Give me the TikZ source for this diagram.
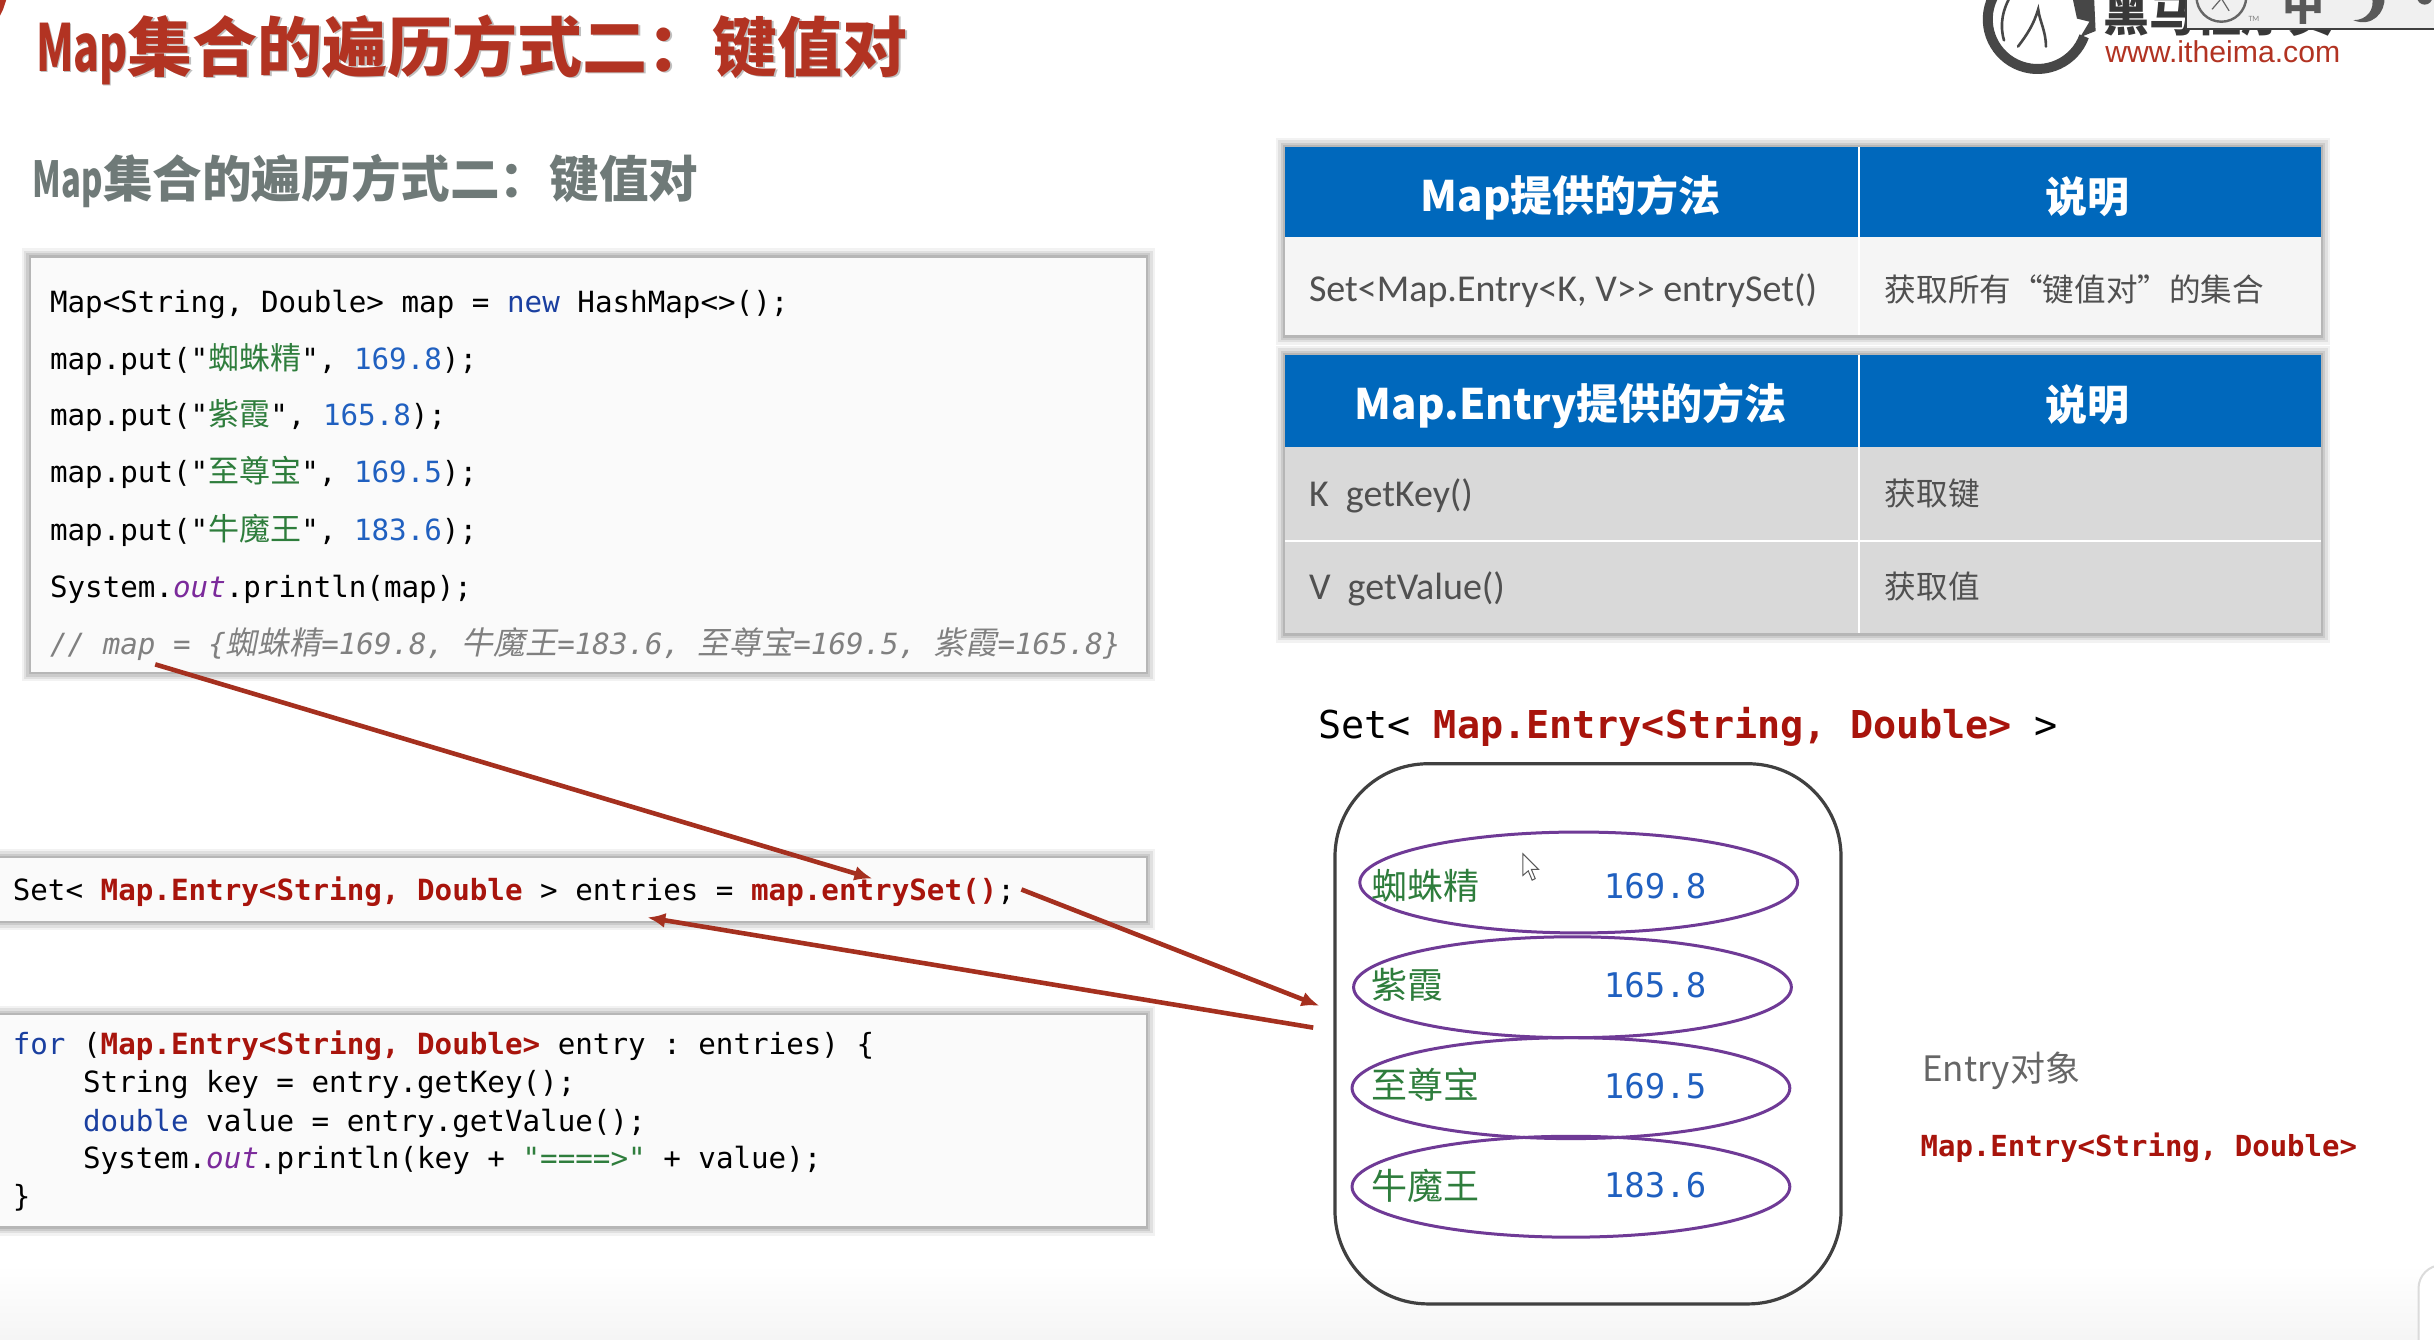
\documentclass[tikz,border=0pt]{standalone}
\usepackage{fontspec}
\setmainfont{Carlito}
\setmonofont{DejaVu Sans Mono}
\newfontfamily\cjk{Noto Sans CJK SC}
\newfontfamily\cjknarrow[FakeStretch=0.66]{Noto Sans CJK SC}
\newfontfamily\cjkslant[FakeSlant=0.2]{Noto Sans CJK SC}
\usetikzlibrary{arrows.meta,calc,shapes.geometric}
\definecolor{titlered}{HTML}{B23322}
\definecolor{subgray}{HTML}{6F7A78}
\definecolor{codeblue}{HTML}{2060C0}
\definecolor{kwblue}{HTML}{1A3FA0}
\definecolor{strgreen}{HTML}{2E7D3C}
\definecolor{varpurple}{HTML}{7B2A9B}
\definecolor{darkred}{HTML}{A8140C}
\definecolor{arrowred}{HTML}{A5301F}
\definecolor{headblue}{HTML}{0068BC}
\definecolor{ringpurple}{HTML}{6F3A96}
\definecolor{bodygray}{HTML}{505050}
\newcommand{\uu}{0.77615pt}
\newcommand{\sz}[1]{\fontsize{#1}{#1}\selectfont}
\newcommand{\clblue}[1]{\textcolor{codeblue}{#1}}
\newcommand{\clstr}[1]{\textcolor{strgreen}{{\cjk\sz{15.5}#1}}}
\newcommand{\clred}[1]{\textcolor{darkred}{\bfseries #1}}
\newcommand{\clkw}[1]{\textcolor{kwblue}{#1}}
\newcommand{\clvar}[1]{\textcolor{varpurple}{\itshape #1}}
\newcommand{\clit}[1]{{\cjkslant\sz{15.9}#1}}
\newcommand{\headtext}{{\cjknarrow Map}集合的遍历方式二：键值对}
\newcommand{\panel}[5]{%
  \foreach \w/\o in {12/0.05,9/0.07,6/0.09,3/0.1}{%
    \draw[line width=\w*\uu,draw=black,opacity=\o] (#1,#2) rectangle (#3,#4);}%
  \fill[#5] (#1,#2) rectangle (#3,#4);}
\tikzset{
  code/.style={anchor=base west,inner sep=0pt,font=\ttfamily\sz{14.6}},
  cellhead/.style={anchor=center,inner sep=0pt,text=white,font=\cjk\bfseries\sz{21}},
  cellbody/.style={anchor=base west,inner sep=0pt,text=bodygray,font=\sz{19}},
  cellcjk/.style={anchor=base west,inner sep=0pt,text=bodygray,font=\cjk\sz{15.8}},
  kvring/.style={draw=ringpurple,line width=1.5pt,ellipse,minimum width=282*\uu,minimum height=65*\uu,inner sep=0pt},
  kvname/.style={anchor=base west,inner sep=0pt,text=strgreen,font=\cjk\sz{18}},
  kvnum/.style={anchor=base west,inner sep=0pt,text=codeblue,font=\ttfamily\sz{17}},
  redline/.style={draw=arrowred,line width=2.3pt,-{Latex[length=9pt,width=7.5pt]}},
}
\begin{document}
\begin{tikzpicture}[x=0.77615pt,y=-0.77615pt]
\useasboundingbox (0,0) rectangle (1568,863.2);
\clip (0,0) rectangle (1568,863.2);
% page background with faint bottom shading
\fill[white] (0,0) rectangle (1568,863.2);
\fill[top color=white,bottom color=black!4,draw=none] (0,815) rectangle (1568,863.2);
\fill[white] (1558,863.2) -- (1558,830) arc[start angle=180,end angle=270,radius=15] -- (1568,815) -- (1568,863.2) -- cycle;
\draw[black!14,line width=1pt] (1558,863.2) -- (1558,830) arc[start angle=180,end angle=270,radius=15];
% corner mark
\fill[titlered] (0,0) -- (4,0) -- (2,6) -- (0,10) -- cycle;
% titles
\node[anchor=base west,inner sep=0pt,text=black!25,font=\cjk\bfseries\sz{32.5}] at (23.7,46.7) {\headtext};
\node (title) [anchor=base west,inner sep=0pt,text=titlered,font=\cjk\bfseries\sz{32.5}] at (23,46) {\headtext};
\node (subtitle) [anchor=base west,inner sep=0pt,text=subgray,font=\cjk\bfseries\sz{24.8}] at (21,127.5) {\headtext};
% logo
\draw[black!72,line width=5pt] (1342.6,23.4) arc[start angle=20,end angle=250,radius=32];
\draw[black!72,line width=1.3pt,line cap=round] (1296,-4) .. controls (1290,6) and (1288,16) .. (1291,26);
\draw[black!72,line width=1.3pt,line cap=round] (1300,30) .. controls (1306,22) and (1310,16) .. (1313,6) .. controls (1314,14) and (1318,20) .. (1318,30);
\fill[black!72] (1335,-2) -- (1349,-2) -- (1350,20) -- (1340,24) -- (1346,14) -- (1338,12) -- cycle;
\node (logotext) [anchor=base west,inner sep=0pt,text=black!78,font=\cjk\bfseries\sz{23}] at (1355,20.5) {黑马程序员};
\node (logourl) [anchor=base west,inner sep=0pt,text=titlered,font=\fontspec{Liberation Sans}\sz{15.1}] at (1356,40) {www.itheima.com};
\fill[black!6] (1408,-2) rectangle (1568,18.5);
\draw[black!75,line width=1pt] (1408,-2) -- (1408,18.5) -- (1568,18.5);
\draw[black!60,line width=1.2pt] (1431,-2) circle (16);
\draw[black!60,line width=.6pt] (1425,6) -- (1431,-1) -- (1436,7);
\node (ovtm) [anchor=base,inner sep=0pt,text=black!50,font=\sz{4}] at (1452,14) {TM};
\node (ovzh) [anchor=base,inner sep=0pt,text=black!65,font=\cjk\bfseries\sz{21}] at (1484,13) {中};
\fill[black!65] (1516,13) .. controls (1525,13) and (1530,6) .. (1528,-2) -- (1536,-2) .. controls (1537,8) and (1528,18) .. (1516,13) -- cycle;
\fill[black!65] (1562,-2) circle (5);
% code panel 1
\panel{20}{166}{738}{433}{black!2}
\node (c1) [code] at (32,201) {Map<String, Double> map = \clkw{new} HashMap<>();};
\node (c2) [code] at (32,238) {map.put("\clstr{蜘蛛精}", \clblue{169.8});};
\node (c3) [code] at (32,274) {map.put("\clstr{紫霞}", \clblue{165.8});};
\node (c4) [code] at (32,311) {map.put("\clstr{至尊宝}", \clblue{169.5});};
\node (c5) [code] at (32,348) {map.put("\clstr{牛魔王}", \clblue{183.6});};
\node (c6) [code] at (32,385) {System.\clvar{out}.println(map);};
\node (c7) [code,text=black!50,font=\ttfamily\itshape\sz{14.6}] at (32,421.5) {// map = \{\clit{蜘蛛精}=169.8, \clit{牛魔王}=183.6, \clit{至尊宝}=169.5, \clit{紫霞}=165.8\}};
% code panel 2
\panel{-10}{553}{738}{593}{black!2}
\node (d1) [code] at (8,580) {Set< \clred{Map.Entry<String, Double} > entries = \clred{map.entrySet()};};
% code panel 3
\panel{-10}{654}{738}{790}{black!2}
\node (e1) [code] at (8,679) {\clkw{for} (\clred{Map.Entry<String, Double>} entry : entries) \{};
\node (e2) [code] at (8,704) {\ \ \ \ String key = entry.getKey();};
\node (e3) [code] at (8,729) {\ \ \ \ \clkw{double} value = entry.getValue();};
\node (e4) [code] at (8,753) {\ \ \ \ System.\clvar{out}.println(key + \textcolor{strgreen}{"====>"} + value);};
\node (e5) [code] at (8,777) {\}};
% tables
\panel{828}{95}{1495}{216}{black!4}
\fill[headblue] (828,95) rectangle (1495,153);
\draw[white,line width=1pt] (1197.5,95) -- (1197.5,216);
\node (h1a) [cellhead] at (1012,127.5) {Map提供的方法};
\node (h1b) [cellhead] at (1345,127) {说明};
\node (r1a) [cellbody] at (843,194.5) {Set<Map.Entry<K, V>{}> entrySet()};
\node (r1b) [cellcjk] at (1214,194.5) {获取所有“键值对”的集合};
\panel{828}{229}{1495}{408}{black!15}
\fill[headblue] (828,229) rectangle (1495,288);
\draw[white,line width=1pt] (1197.5,229) -- (1197.5,408);
\draw[white,line width=1pt] (828,348.5) -- (1495,348.5);
\node (h2a) [cellhead] at (1012,261.5) {Map.Entry提供的方法};
\node (h2b) [cellhead] at (1345,261) {说明};
\node (r2a) [cellbody] at (843,326) {K\ \ getKey()};
\node (r2b) [cellcjk] at (1214,325.5) {获取键};
\node (r3a) [cellbody] at (843,386) {V\ \ getValue()};
\node (r3b) [cellcjk] at (1214,385.5) {获取值};
% set diagram
\node (settitle) [anchor=base west,inner sep=0pt,font=\ttfamily\sz{19.2}] at (849,476) {Set< \clred{Map.Entry<String, Double>} >};
\draw[black!75,line width=1.6pt,rounded corners=60*\uu] (860,492) rectangle (1186,840);
\node (ring1) [kvring] at (1017,568.5) {};
\node (ring2) [kvring] at (1013,636) {};
\node (ring3) [kvring] at (1012,701) {};
\node (ring4) [kvring] at (1012,764.5) {};
\node (n1) [kvname] at (883,579.5) {蜘蛛精};
\node (v1) [kvnum] at (1033,578.5) {169.8};
\node (n2) [kvname] at (883,643.5) {紫霞};
\node (v2) [kvnum] at (1033,642.5) {165.8};
\node (n3) [kvname] at (883,707.5) {至尊宝};
\node (v3) [kvnum] at (1033,707.5) {169.5};
\node (n4) [kvname] at (883,772.5) {牛魔王};
\node (v4) [kvnum] at (1033,771.5) {183.6};
\node (entrycn) [anchor=base west,inner sep=0pt,text=black!60,font=\cjk\sz{17.5}] at (1238,697) {Entry对象};
\node (entrycode) [anchor=base west,inner sep=0pt,font=\ttfamily\sz{14.5}] at (1237,745) {\clred{Map.Entry<String, Double>}};
% mouse cursor
\draw[black!65,fill=white,line width=.5pt] (981,550) -- (981,564) -- (984.5,561) -- (987,567) -- (989,566) -- (986.5,560) -- (991,560) -- cycle;
% connectors
\coordinate (a1s) at (100,428);
\coordinate (a1e) at (562,566);
\coordinate (a2s) at (658,573);
\coordinate (a2e) at (850,648);
\coordinate (a3s) at (846,662);
\coordinate (a3e) at (417,591);
\draw[redline] (a1s) -- (a1e);
\draw[redline] (a2s) -- (a2e);
\draw[redline] (a3s) -- (a3e);
\end{tikzpicture}
\end{document}
